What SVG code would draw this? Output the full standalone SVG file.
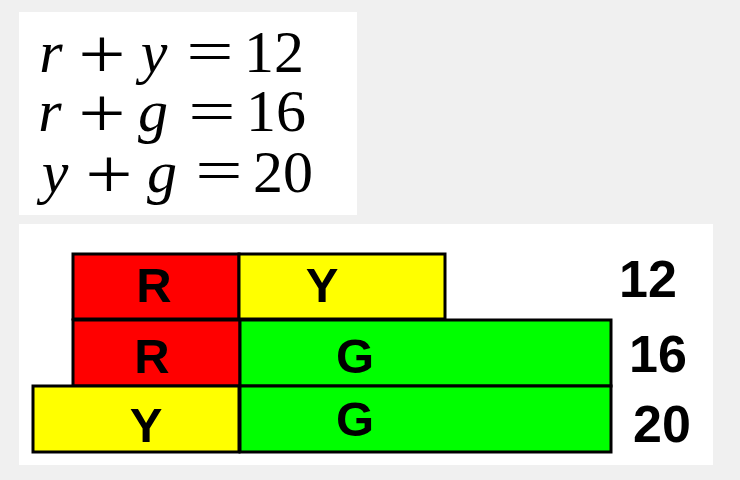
<svg xmlns="http://www.w3.org/2000/svg" width="740" height="480" viewBox="0 0 740 480">
<style>
.eq{font-family:"Liberation Serif","Times New Roman",serif;font-size:60px;fill:#000;text-anchor:middle}
.it{font-style:italic}
.bar{stroke:#000;stroke-width:3}
.lbl{font-family:"Liberation Sans",Arial,sans-serif;font-weight:bold;font-size:49px;fill:#000;text-anchor:middle}
.num{font-family:"Liberation Sans",Arial,sans-serif;font-weight:bold;font-size:52px;fill:#000;text-anchor:middle}
</style>
<rect x="0" y="0" width="740" height="480" fill="#f0f0f0"/>
<g id="equations">
<rect x="19" y="12" width="338" height="203" fill="#ffffff"/>
<text class="eq"><tspan class="it" x="51" y="72">r</tspan><tspan class="it" x="154" y="72">y</tspan><tspan x="274" y="72">12</tspan><tspan class="it" x="50" y="131">r</tspan><tspan class="it" x="153" y="131">g</tspan><tspan x="276" y="131">16</tspan><tspan class="it" x="55" y="192">y</tspan><tspan class="it" x="162" y="192">g</tspan><tspan x="283" y="192">20</tspan></text>
<text class="eq" transform="translate(102,60) scale(1.4,1.2)" x="0" y="15">+</text>
<text class="eq" transform="translate(210,56) scale(1.4,1)" x="0" y="15">=</text>
<text class="eq" transform="translate(102,119) scale(1.4,1.2)" x="0" y="15">+</text>
<text class="eq" transform="translate(212,116) scale(1.4,1)" x="0" y="15">=</text>
<text class="eq" transform="translate(109,180) scale(1.4,1.2)" x="0" y="15">+</text>
<text class="eq" transform="translate(219,175) scale(1.4,1)" x="0" y="15">=</text>
</g>
<g id="panel">
<rect x="19" y="224" width="694" height="241" fill="#ffffff"/>
</g>
<g id="row1">
<rect class="bar" x="73" y="254" width="166" height="65" fill="#ff0000"/>
<rect class="bar" x="239" y="254" width="206" height="65" fill="#ffff00"/>
<text class="lbl" x="154" y="302">R</text>
<text class="lbl" x="322" y="302">Y</text>
<text class="num" x="648" y="297">12</text>
</g>
<g id="row2">
<rect class="bar" x="73" y="320" width="167" height="66" fill="#ff0000"/>
<rect class="bar" x="240" y="320" width="371" height="66" fill="#00ff00"/>
<text class="lbl" x="152" y="373">R</text>
<text class="lbl" x="355" y="373">G</text>
<text class="num" x="658" y="372">16</text>
</g>
<g id="row3">
<rect class="bar" x="33" y="386" width="206" height="66" fill="#ffff00"/>
<rect class="bar" x="240" y="386" width="371" height="66" fill="#00ff00"/>
<text class="lbl" x="146" y="442">Y</text>
<text class="lbl" x="355" y="436">G</text>
<text class="num" x="662" y="442">20</text>
</g>
<g id="connectors"></g>
</svg>
